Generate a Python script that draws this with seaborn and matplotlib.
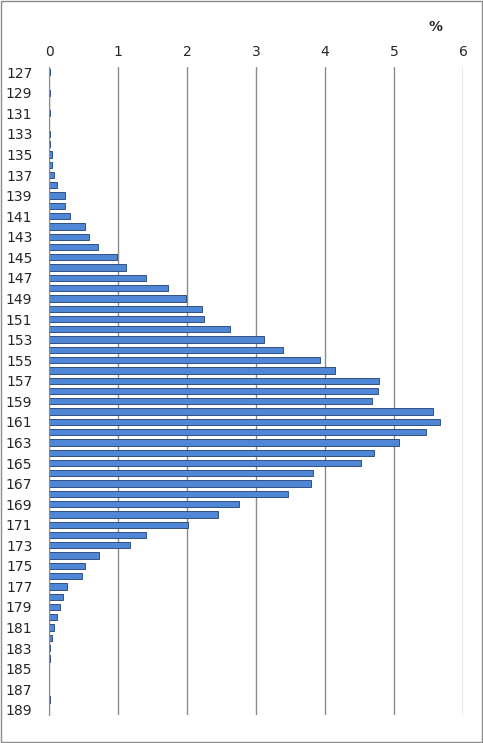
import numpy as np
import pandas as pd
import matplotlib
matplotlib.use("Agg")
import matplotlib.pyplot as plt
import seaborn as sns

heights = list(range(127, 190))
percent = [0.01, 0.0, 0.01, 0.0, 0.01, 0.0, 0.01, 0.01, 0.04, 0.05,
           0.07, 0.11, 0.23, 0.23, 0.30, 0.52, 0.58, 0.71, 0.99, 1.11,
           1.41, 1.72, 1.99, 2.22, 2.25, 2.63, 3.11, 3.39, 3.93, 4.14,
           4.78, 4.77, 4.68, 5.56, 5.67, 5.47, 5.07, 4.71, 4.52, 3.83,
           3.80, 3.46, 2.76, 2.45, 2.01, 1.40, 1.17, 0.73, 0.52, 0.48,
           0.26, 0.20, 0.16, 0.11, 0.07, 0.04, 0.01, 0.01, 0.0, 0.0,
           0.0, 0.01, 0.0]

df = pd.DataFrame({"height": heights, "percent": percent})

sns.set_style("white")
plt.rcParams["font.family"] = ["DejaVu Sans"]

fig = plt.figure(figsize=(4.83, 7.43), dpi=100)
fig.patches.append(plt.Rectangle((0.002, 0.002), 0.996, 0.996, transform=fig.transFigure,
                                 fill=False, edgecolor="#8c8c8c", lw=1))
ax = fig.add_axes([49 / 483, 1 - 715 / 743, 414 / 483, 648 / 743])

sns.barplot(data=df, x="percent", y="height", orient="h", order=heights,
            color="#4f86d6", edgecolor="#1f3f73", linewidth=0.6, width=0.6,
            saturation=1, ax=ax)

ax.set_xlim(0, 6)
ax.set_ylim(len(heights) - 0.5, -0.5)
ax.xaxis.tick_top()
ax.set_xticks(range(7))
ax.set_xlabel("")
ax.set_ylabel("")
ax.grid(axis="x", color="#8c8c8c", lw=1)
ax.set_axisbelow(True)
ax.set_yticks(range(0, len(heights), 2))
ax.set_yticklabels([str(h) for h in heights[::2]])
ax.tick_params(axis="y", length=4, color="#8c8c8c", labelsize=10, pad=8)
ax.tick_params(axis="x", length=0, labelsize=10, pad=6)
for s in ["top", "right", "bottom"]:
    ax.spines[s].set_visible(False)
ax.spines["left"].set_color("#8c8c8c")
ax.text(5.6, 1.055, "%", transform=ax.get_xaxis_transform(), fontsize=10,
        fontweight="bold", ha="center")

fig.savefig("out.png", dpi=100)
